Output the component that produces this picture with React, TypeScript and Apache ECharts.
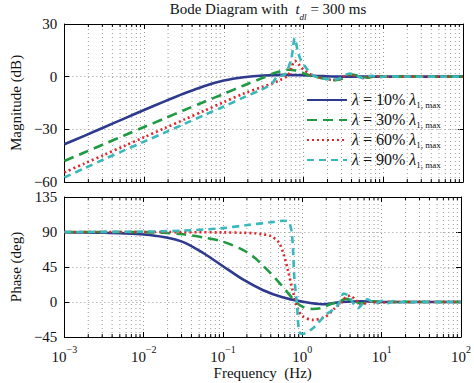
import React, { useEffect, useRef } from "react";
import * as echarts from "echarts";

// Legend labels (percent of λ1,max) and line colours
const lambdaLabels = ["10%", "30%", "60%", "90%"];
const lineColors = ["#2e3a8e", "#1f9a42", "#e0262b", "#38b8ba"];

// Magnitude (dB) vs frequency (Hz)
const magBlue: [number, number][] = [
  [0.001, -38.5], [0.00178, -33.7], [0.00316, -28.8], [0.00562, -23.9], [0.01, -19],
  [0.0178, -14.2], [0.0316, -9.6], [0.0562, -5.4], [0.1, -2.2], [0.178, -0.3],
  [0.316, 0.7], [0.562, 1], [1, 0.8], [1.78, 0.3], [3.16, 0], [10, 0], [100, 0],
];
const magGreen: [number, number][] = [
  [0.001, -48], [0.00178, -43.2], [0.00316, -38.4], [0.00562, -33.5], [0.01, -28.7],
  [0.0178, -23.9], [0.0316, -19.1], [0.0562, -14.4], [0.1, -9.8], [0.178, -5],
  [0.316, -0.5], [0.398, 1.6], [0.501, 3], [0.631, 3.9], [0.794, 3.5], [1, 2],
  [1.26, 0.3], [1.78, -1], [2.51, -2], [3.16, -1], [3.98, 1.2], [5.01, 0.4],
  [6.31, -0.6], [7.94, 0.3], [10, 0], [100, 0],
];
const magRed: [number, number][] = [
  [0.001, -54.5], [0.00178, -49.5], [0.00316, -44.5], [0.00562, -39.5], [0.01, -34.5],
  [0.0178, -29.5], [0.0316, -24.5], [0.0562, -19.5], [0.1, -14.5], [0.178, -9.6],
  [0.316, -5.6], [0.398, -4], [0.501, -2], [0.631, 0.5], [0.708, 5.5], [0.776, 9],
  [0.891, 6.5], [1, 4], [1.26, 1], [1.58, -0.5], [2.34, -1.8], [2.82, -1.5],
  [3.55, 1], [4.47, 0.5], [5.62, -0.8], [7.08, 0.3], [10, 0], [100, 0],
];
const magCyan: [number, number][] = [
  [0.001, -57.4], [0.00178, -52.2], [0.00316, -47], [0.00562, -42], [0.01, -37],
  [0.0178, -32], [0.0316, -27], [0.0562, -22], [0.1, -17], [0.178, -11.8],
  [0.316, -6.8], [0.398, -4.2], [0.479, 0.4], [0.562, 0.6], [0.631, 4], [0.708, 11],
  [0.776, 22], [0.851, 14], [0.933, 9], [1, 7], [1.12, 4], [1.35, 0.5], [1.78, -1],
  [2.34, -1.8], [2.82, -1], [3.8, 1.8], [4.79, 0.2], [5.62, -0.8], [7.08, 0.5],
  [8.91, -0.3], [11.2, 0.3], [15.8, 0], [100, 0],
];

// Phase (deg) vs frequency (Hz)
const phaseBlue: [number, number][] = [
  [0.001, 89.6], [0.00178, 89.4], [0.00316, 89], [0.00562, 88.2], [0.01, 86.8],
  [0.0178, 83.5], [0.0316, 77], [0.0562, 63], [0.1, 46], [0.178, 29], [0.316, 15.5],
  [0.562, 6], [1, 0.5], [1.78, -2.8], [3.16, 0], [5.62, 1], [10, 0], [100, 0],
];
const phaseGreen: [number, number][] = [
  [0.001, 90], [0.00316, 90], [0.01, 89.8], [0.0178, 89], [0.0316, 87], [0.0562, 83],
  [0.1, 77.5], [0.178, 67], [0.251, 57], [0.316, 47], [0.398, 37], [0.501, 26],
  [0.631, 14], [0.794, 2], [1, -6], [1.35, -9], [1.78, -7.5], [2.24, -3], [2.82, 0],
  [3.55, 4], [4.47, 1], [5.62, -2], [7.08, 1], [10, 0], [100, 0],
];
const phaseRed: [number, number][] = [
  [0.001, 90], [0.01, 90], [0.1, 89.5], [0.178, 89], [0.251, 88.3], [0.316, 87],
  [0.398, 85], [0.501, 77], [0.575, 63], [0.661, 40], [0.759, 14], [0.871, -8],
  [1, -18], [1.35, -23], [1.95, -19], [2.57, -8], [3.16, 0], [3.55, 7], [3.98, 8],
  [4.79, 2], [5.62, -4], [7.08, 1], [8.91, -1], [12.6, 0], [100, 0],
];
const phaseCyan: [number, number][] = [
  [0.001, 90], [0.01, 90.5], [0.0316, 91.8], [0.1, 95], [0.204, 99], [0.398, 102.5],
  [0.575, 104.5], [0.676, 103], [0.741, 86], [0.794, 30], [0.851, 0], [0.912, -38],
  [1, -41], [1.35, -34], [1.95, -17], [2.57, -8], [2.95, 0], [3.31, 11], [3.8, 8],
  [4.47, -3], [5.01, -8], [5.75, -2], [6.61, 3.5], [7.59, 0], [8.32, -2.5],
  [10, 1.5], [12, -1.5], [14.1, 1.2], [16.6, -1], [20, 0.8], [24, -0.6],
  [28.2, 0.4], [39.8, 0], [100, 0],
];

const magSeries = [magBlue, magGreen, magRed, magCyan];
const phaseSeries = [phaseBlue, phaseGreen, phaseRed, phaseCyan];

// Axis ranges and ticks
const freqMin = 0.001;
const freqMax = 100;
const magMin = -60, magMax = 30, magStep = 30;
const phaseMin = -45, phaseMax = 135, phaseStep = 45;
const decadeStarts = [0.001, 0.01, 0.1, 1, 10];
const minorMultipliers = [2, 3, 4, 5, 6, 7, 8, 9];

const lineTypes: any[] = ["solid", [10, 6], [2, 3], [7, 5]];

const SERIF = "'Liberation Serif', 'DejaVu Serif', serif";
const GRID_GREY = "#9a9a9a";

const minorFreqs: number[] = [];
decadeStarts.forEach((d) => minorMultipliers.forEach((m) => minorFreqs.push(d * m)));

const supRich = {
  b: { fontFamily: SERIF, fontSize: 15, color: "#111", lineHeight: 20, verticalAlign: "bottom" },
  sup: { fontFamily: SERIF, fontSize: 10, color: "#111", lineHeight: 10, verticalAlign: "top" },
};

function fmtNum(v: number) {
  return v < 0 ? "\u2212" + Math.abs(v) : String(v);
}

// Dotted minor grid at 2..9 of each decade, with short inside ticks on both edges
function minorGrid(axisIndex: number, yMin: number, yMax: number) {
  return {
    type: "custom",
    xAxisIndex: axisIndex * 2,
    yAxisIndex: axisIndex * 2,
    silent: true,
    z: 1,
    data: minorFreqs.map((f) => [f, yMin]),
    encode: { x: 0, y: 1 },
    renderItem: (_params: any, api: any) => {
      const f = api.value(0);
      const p0 = api.coord([f, yMin]);
      const p1 = api.coord([f, yMax]);
      return {
        type: "group",
        children: [
          {
            type: "line",
            shape: { x1: p0[0], y1: p0[1], x2: p1[0], y2: p1[1] },
            style: { stroke: GRID_GREY, lineWidth: 1, lineDash: [1, 3] },
          },
          {
            type: "line",
            shape: { x1: p0[0], y1: p0[1], x2: p0[0], y2: p0[1] - 3 },
            style: { stroke: "#000", lineWidth: 1 },
          },
          {
            type: "line",
            shape: { x1: p1[0], y1: p1[1], x2: p1[0], y2: p1[1] + 3 },
            style: { stroke: "#000", lineWidth: 1 },
          },
        ],
      };
    },
  };
}

function xAxes(gridIndex: number, showLabels: boolean) {
  const base = {
    type: "log",
    logBase: 10,
    min: freqMin,
    max: freqMax,
    gridIndex,
    axisLine: { show: true, onZero: false, lineStyle: { color: "#000", width: 1 } },
    axisTick: { show: true, inside: true, length: 5, lineStyle: { color: "#000" } },
  };
  return [
    {
      ...base,
      position: "bottom",
      splitLine: { show: true, lineStyle: { color: GRID_GREY, type: [1, 3] } },
      axisLabel: showLabels
        ? {
            show: true,
            margin: 7,
            formatter: (v: number) => {
              const e = Math.round(Math.log10(v));
              return `{b|10}{sup|${e < 0 ? "\u2212" + Math.abs(e) : e}}`;
            },
            rich: supRich,
          }
        : { show: false },
      name: showLabels ? "Frequency  (Hz)" : "",
      nameLocation: "middle",
      nameGap: 28,
      nameTextStyle: { fontFamily: SERIF, fontSize: 15, color: "#111" },
    },
    {
      ...base,
      position: "top",
      splitLine: { show: false },
      axisLabel: { show: false },
    },
  ];
}

function yAxes(gridIndex: number, min: number, max: number, step: number, name: string) {
  const base = {
    type: "value",
    gridIndex,
    min,
    max,
    interval: step,
    axisLine: { show: true, lineStyle: { color: "#000", width: 1 } },
    axisTick: { show: true, inside: true, length: 5, lineStyle: { color: "#000" } },
  };
  return [
    {
      ...base,
      position: "left",
      splitLine: { show: true, lineStyle: { color: GRID_GREY, type: [1, 3] } },
      axisLabel: {
        show: true,
        margin: 7,
        formatter: fmtNum,
        fontFamily: SERIF,
        fontSize: 15,
        color: "#111",
      },
      name,
      nameLocation: "middle",
      nameGap: 39,
      nameTextStyle: { fontFamily: SERIF, fontSize: 15, color: "#111" },
    },
    {
      ...base,
      position: "right",
      splitLine: { show: false },
      axisLabel: { show: false },
    },
  ];
}

export default function App() {
  const ref = useRef<HTMLDivElement>(null);

  useEffect(() => {
    if (!ref.current) return;
    const chart = echarts.init(ref.current, null, { renderer: "svg" });

    const lineSeries: any[] = [];
    lambdaLabels.forEach((lab, i) => {
      const common = {
        type: "line",
        name: lab,
        showSymbol: false,
        symbol: "none",
        smooth: 0.3,
        color: lineColors[i],
        lineStyle: { color: lineColors[i], width: 2.6, type: lineTypes[i] },
        z: 3 + i,
      };
      lineSeries.push({ ...common, xAxisIndex: 0, yAxisIndex: 0, data: magSeries[i] });
      lineSeries.push({ ...common, xAxisIndex: 2, yAxisIndex: 2, data: phaseSeries[i] });
    });

    chart.setOption({
      animation: false,
      backgroundColor: "#fff",
      grid: [
        { left: 54, top: 24, width: 409, height: 158 },
        { left: 54, top: 197, width: 409, height: 140 },
      ],
      xAxis: [...xAxes(0, false), ...xAxes(1, true)],
      yAxis: [
        ...yAxes(0, magMin, magMax, magStep, "Magnitude (dB)"),
        ...yAxes(1, phaseMin, phaseMax, phaseStep, "Phase (deg)"),
      ],
      legend: {
        data: lambdaLabels,
        orient: "vertical",
        left: 306,
        top: 91,
        itemWidth: 40,
        itemHeight: 12,
        itemGap: 2,
        padding: 0,
        itemStyle: { opacity: 0 },
        formatter: (name: string) => `{it|\u03bb}{n| = ${name} }{it|\u03bb}{sub|1, max}`,
        textStyle: {
          rich: {
            it: { fontFamily: SERIF, fontStyle: "italic", fontSize: 16, color: "#111", lineHeight: 18, verticalAlign: "top" },
            n: { fontFamily: SERIF, fontSize: 16, color: "#111", lineHeight: 18, verticalAlign: "top" },
            sub: { fontFamily: SERIF, fontSize: 9, color: "#111", lineHeight: 9, verticalAlign: "bottom" },
          },
        },
      },
      graphic: [
        {
          type: "text",
          x: 268,
          y: 1,
          style: {
            text: "{a|Bode Diagram with  }{it|t}{sub|dl}{a| = 300 ms}",
            align: "center",
            verticalAlign: "top",
            rich: {
              a: { fontFamily: SERIF, fontSize: 15, fill: "#111", lineHeight: 20, verticalAlign: "top" },
              it: { fontFamily: SERIF, fontStyle: "italic", fontSize: 15, fill: "#111", lineHeight: 20, verticalAlign: "top" },
              sub: { fontFamily: SERIF, fontStyle: "italic", fontSize: 9, fill: "#111", lineHeight: 9, verticalAlign: "bottom" },
            },
          },
        },
      ],
      series: [minorGrid(0, magMin, magMax), minorGrid(1, phaseMin, phaseMax), ...lineSeries],
    });

    return () => chart.dispose();
  }, []);

  return (
    <div
      ref={ref}
      style={{ position: "absolute", left: 0, top: 0, width: 474, height: 383 }}
    />
  );
}
